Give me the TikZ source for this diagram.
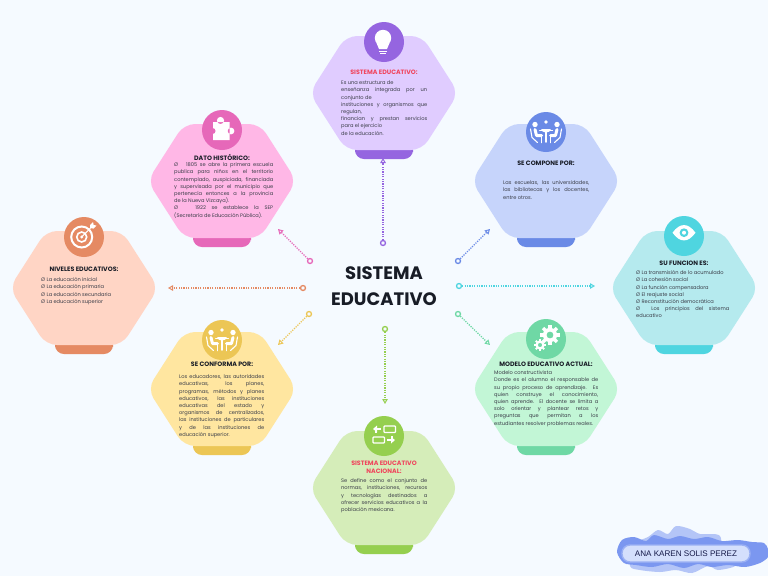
\documentclass[tikz,border=0pt]{standalone}
\usepackage{fontspec}
\setmainfont{Poppins}
\usetikzlibrary{arrows.meta,positioning}

\definecolor{pagebg}{HTML}{F5FAFF}
\definecolor{inktitle}{HTML}{181C26}
\definecolor{inkbody}{HTML}{3A3D48}
\definecolor{inkred}{HTML}{F0445C}
\definecolor{lilac}{HTML}{E0CCFF}
\definecolor{lilacdk}{HTML}{9565E0}
\definecolor{rose}{HTML}{FFB7E6}
\definecolor{rosedk}{HTML}{E668B9}
\definecolor{sky}{HTML}{C6D4FB}
\definecolor{skydk}{HTML}{6A8AE6}
\definecolor{peach}{HTML}{FFD5C5}
\definecolor{peachdk}{HTML}{E58A63}
\definecolor{aqua}{HTML}{B5EAEE}
\definecolor{aquadk}{HTML}{4FD5E0}
\definecolor{sand}{HTML}{FFE6A0}
\definecolor{sanddk}{HTML}{ECC655}
\definecolor{mint}{HTML}{C2F6D6}
\definecolor{mintdk}{HTML}{6FD8A5}
\definecolor{leaf}{HTML}{D5EDB9}
\definecolor{leafdk}{HTML}{95CF4F}
\definecolor{brush}{HTML}{6485EE}

% card: centre x, centre y, light, dark, icon centre y, node name
\newcommand{\hexcard}[6]{
  \fill[#4,rounded corners=9pt] (#1-29,#2+50) -- (#1-29,#2+66) -- (#1+29,#2+66) -- (#1+29,#2+50) -- cycle;
  \fill[#3,rounded corners=11pt] (#1-74.5,#2) -- (#1-38,#2-57) -- (#1+38,#2-57) -- (#1+74.5,#2) -- (#1+38,#2+57) -- (#1-38,#2+57) -- cycle;
  \node[disc,fill=#4] (#6) at (#1,#5) {};
}
\newcommand{\cog}[3]{
  \draw[white,line width=#3*0.42pt] (#1,#2) circle ({#3*0.62});
  \foreach \a in {0,45,...,315}
    \draw[white,line width=#3*0.36pt] (#1,#2) ++(\a:{#3*0.75}) -- ++(\a:{#3*0.34});
}
\newcommand{\meeting}[2]{
  \begin{scope}[shift={(#1,#2)},white,line cap=round,line join=round]
    \fill (-11,-7.5) circle (2.7) (11,-7.5) circle (2.7) (0,-10) circle (1.8);
    \fill (-4.8,-3) arc (180:0:4.8 and 3.6) -- cycle;
    \draw[line width=1pt] (-6.5,-2) -- (6.5,-2);
    \draw[line width=1.8pt] (0,-1) -- (0,10);
    \draw[line width=3pt] (-11,-2.5) -- (-9.5,3.5) -- (-4.5,3.5);
    \draw[line width=1.6pt] (-4.5,3.5) -- (-4.5,10.5);
    \draw[line width=3pt] (11,-2.5) -- (9.5,3.5) -- (4.5,3.5);
    \draw[line width=1.6pt] (4.5,3.5) -- (4.5,10.5);
    \draw[line width=1.1pt] (-15.5,-3) -- (-14,5.5) -- (-8.5,10.5);
    \draw[line width=1.1pt] (15.5,-3) -- (14,5.5) -- (8.5,10.5);
  \end{scope}
}

\begin{document}
\begin{tikzpicture}[
  x=1pt, y=-1pt,
  disc/.style={circle, minimum size=40pt, inner sep=0pt},
  cardtitle/.style={font=\fontsize{6.3}{7.8}\selectfont\bfseries, text=inktitle, align=center, inner sep=0pt},
  redtitle/.style={cardtitle, text=inkred},
  cardbody/.style={font=\fontsize{5.1}{7.2}\selectfont, text=inkbody, align=justify, anchor=north west, inner sep=0pt, execute at begin node={\strut}},
  hub/.style={circle, draw, line width=1.3pt, fill=pagebg, minimum size=5pt, inner sep=0pt},
  link/.style={line width=1.3pt, dash pattern=on 1.2pt off 1.2pt, -{Triangle[open,length=5pt,width=5.5pt,line width=1pt]}}
]
\useasboundingbox (0,0) rectangle (768,576);
\fill[pagebg] (0,0) rectangle (768,576);

% cards
\hexcard{384}{93}{lilac}{lilacdk}{42}{iconidea}
\hexcard{222}{181}{rose}{rosedk}{130}{iconpuzzle}
\hexcard{546}{181}{sky}{skydk}{132}{iconteam}
\hexcard{84}{288}{peach}{peachdk}{237}{icontarget}
\hexcard{684}{288}{aqua}{aquadk}{236}{iconeye}
\hexcard{222}{389}{sand}{sanddk}{340}{iconboard}
\hexcard{546}{389}{mint}{mintdk}{339}{icongears}
\hexcard{384}{488}{leaf}{leafdk}{436}{iconswap}

% icons
\fill[white] (383,38) circle (8.2);
\fill[white] (376.5,43) -- (389.5,43) -- (387,49) -- (379,49) -- cycle;
\draw[white,line width=1pt] (379,51.3) -- (387,51.3) (380,53.6) -- (386,53.6);

\fill[white] (213,122) rectangle (229.5,140) (220.5,120.5) circle (3.6) (231,131) circle (3.4);
\fill[rosedk] (212.5,131) circle (3);

\meeting{546}{132}
\meeting{222}{340}

\draw[white,line width=2pt] (81.7,237) circle (10.5);
\draw[white,line width=1.6pt] (81.7,237) circle (5);
\fill[white] (81.7,237) circle (1.6);
\draw[white,line width=1pt] (81.7,237) -- (92,226.5);
\fill[white] (90,225) -- (93,222) -- (93.6,225) -- (96.5,225.6) -- (93.5,228.6) -- (90,228) -- cycle;

\fill[white] (672.5,232.7) .. controls (680,222.5) and (688,222.5) .. (695.5,232.7) .. controls (688,243) and (680,243) .. (672.5,232.7) -- cycle;
\fill[aquadk] (684,232.7) circle (4.4);
\fill[white] (684,232.7) circle (2);

\cog{550}{335}{9}
\cog{540}{345}{5.5}

\draw[white,line width=1.3pt,rounded corners=0.8pt] (384,426) rectangle (395.5,432.5);
\draw[white,line width=1.3pt,rounded corners=0.8pt] (373,437) rectangle (384.5,443);
\draw[white,line width=1.3pt] (381,429) -- (376,429) -- (376,433);
\fill[white] (373,429) -- (377,425.5) -- (377,432) -- cycle;
\draw[white,line width=1.3pt] (387,440) -- (392,440) -- (392,436);
\fill[white] (395,440) -- (391,443.5) -- (391,437) -- cycle;

% titles
\node[redtitle] (titleidea) at (384,72) {SISTEMA EDUCATIVO:};
\node[cardtitle] (titlehist) at (222,157) {DATO HISTÓRICO:};
\node[cardtitle] (titleparts) at (546,163) {SE COMPONE POR:};
\node[cardtitle] (titlelevels) at (84,269) {NIVELES EDUCATIVOS:};
\node[cardtitle] (titlerole) at (684,263) {SU FUNCION ES:};
\node[cardtitle] (titleform) at (222,364) {SE CONFORMA POR:};
\node[cardtitle] (titlemodel) at (546,364) {MODELO EDUCATIVO ACTUAL:};
\node[redtitle] (titlenat) at (384,467) {SISTEMA EDUCATIVO\\NACIONAL:};

% bodies
\node[cardbody,text width=86pt] (bodyidea) at (341,79.4) {Es una estructura de\\
enseñanza integrada por un\linebreak
conjunto de\\
instituciones y organismos que\linebreak
regulan,\\
financian y prestan servicios\linebreak
para el ejercicio\\
de la educación.};
\node[cardbody,text width=99pt] (bodyhist) at (174,161.4) {Ø\ \ \ 1805 se abre la primera escuela\linebreak
publica para niños en el territorio\linebreak
contemplado, auspiciada, financiada\linebreak
y supervisada por el municipio que\linebreak
pertenecía entonces a la provincia\linebreak
de la Nueva Vizcaya).\\
Ø\ \ \ 1922 se establece la SEP\linebreak
(Secretaría de Educación Pública).};
\node[cardbody,text width=86pt] (bodyparts) at (503,179.4) {Las escuelas, las universidades,\linebreak
las bibliotecas y los docentes,\linebreak
entre otros.};
\node[cardbody,text width=90pt] (bodylevels) at (41,276.4) {Ø La educación inicial\\
Ø La educación primaria\\
Ø La educación secundaria\\
Ø La educación superior};
\node[cardbody,text width=93pt] (bodyrole) at (636,269.4) {Ø La transmisión de lo acumulado\\
Ø La cohesión social\\
Ø La función compensadora\\
Ø El reajuste social\\
Ø Reconstitución democrática\\
Ø\ \ Los principios del sistema\linebreak
educativo};
\node[cardbody,text width=85pt] (bodyform) at (179,373.4) {Los educadores, las autoridades\linebreak
educativas, los planes,\linebreak
programas, métodos y planes\linebreak
educativos, las instituciones\linebreak
educativas del estado y\linebreak
organismos de centralizados,\linebreak
las instituciones de particulares\linebreak
y de las instituciones de\linebreak
educación superior.};
\node[cardbody,text width=104pt] (bodymodel) at (494,369.4) {Modelo constructivista\\
Donde es el alumno el responsable de\linebreak
su propio proceso de aprendizaje. Es\linebreak
quien construye el conocimiento,\linebreak
quien aprende. El docente se limita a\linebreak
solo orientar y plantear retos y\linebreak
preguntas que permitan a los\linebreak
estudiantes resolver problemas reales.};
\node[cardbody,text width=86pt] (bodynat) at (341,477.4) {Se define como el conjunto de\linebreak
normas, instituciones, recursos\linebreak
y tecnologías destinados a\linebreak
ofrecer servicios educativos a la\linebreak
población mexicana.};

% centre
\node[font=\fontsize{18}{26}\selectfont\bfseries, text=inktitle, align=center, inner sep=0pt] (main) at (384,286) {SISTEMA\\EDUCATIVO};

% connectors
\node[hub,draw=lilacdk] (hubidea) at (383,243) {};
\node[hub,draw=rosedk] (hubhist) at (310,261) {};
\node[hub,draw=skydk] (hubparts) at (458,261) {};
\node[hub,draw=peachdk] (hublevels) at (303,288) {};
\node[hub,draw=aquadk] (hubrole) at (459,286) {};
\node[hub,draw=sanddk] (hubform) at (309,314) {};
\node[hub,draw=mintdk] (hubmodel) at (458,314) {};
\node[hub,draw=leafdk] (hubnat) at (385,329) {};

\coordinate (endidea) at (383,158);
\coordinate (endhist) at (278,229);
\coordinate (endparts) at (490,229);
\coordinate (endlevels) at (168,288);
\coordinate (endrole) at (595,286);
\coordinate (endform) at (278,345);
\coordinate (endmodel) at (490,345);
\coordinate (endnat) at (385,404);

\draw[link,lilacdk] (hubidea) -- (endidea);
\draw[link,rosedk] (hubhist) -- (endhist);
\draw[link,skydk] (hubparts) -- (endparts);
\draw[link,peachdk] (hublevels) -- (endlevels);
\draw[link,aquadk] (hubrole) -- (endrole);
\draw[link,sanddk] (hubform) -- (endform);
\draw[link,mintdk] (hubmodel) -- (endmodel);
\draw[link,leafdk] (hubnat) -- (endnat);

% signature
\fill[brush!45!pagebg] plot[smooth cycle] coordinates {(648,537) (658,530) (668,534) (676,526) (690,529) (700,534) (720,536) (722,560) (735,566) (718,570) (708,566) (692,573) (676,570) (660,572) (640,570) (630,566) (632,545)};
\fill[brush!85!white] plot[smooth cycle] coordinates {(617,552) (622,540) (634,537) (646,541) (654,535) (668,539) (680,536) (694,539) (708,537) (722,541) (738,540) (752,542) (764,543) (768,549) (768,557) (760,563) (745,567) (728,565) (712,567) (698,564) (684,568) (668,564) (652,567) (636,565) (624,563)};
\node[rounded corners=8pt, fill=sky!75!white, draw=brush!65!white, line width=1.4pt, minimum width=128pt, minimum height=17pt, inner sep=0pt, font=\fontsize{8.1}{9}\selectfont, text=inktitle!85!blue] (author) at (686,553.5) {\setmainfont{Liberation Sans}ANA KAREN SOLIS PEREZ};
\end{tikzpicture}
\end{document}
